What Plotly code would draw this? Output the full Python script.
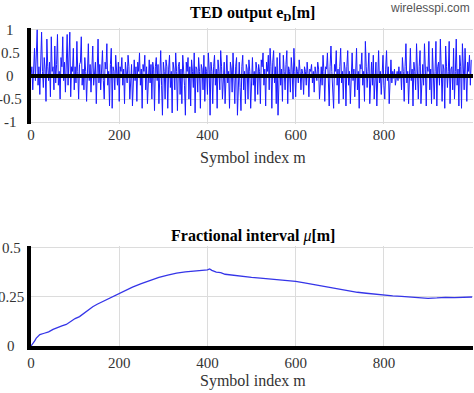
import plotly.graph_objects as go

# ---- data ----
# TED output e_D[m], sampled every 2nd symbol, read per 200-symbol segment
ted_seg_a = [
    0.0, 0.2, -0.3, 0.1, 0.6, -0.1, 0.3, 1.0, -0.2, 0.2,
    -0.4, 0.3, 0.95, 0.1, -0.25, 0.4, 0.15, -0.55, 0.8, 0.2,
    -0.1, 0.3, -0.45, 0.85, 0.1, 0.2, -0.3, 0.65, -0.15, 0.25,
    0.9, -0.2, 0.1, -0.5, 0.4, 0.2, 0.85, -0.1, 0.3, -0.35,
    0.15, 0.9, -0.2, 0.25, 0.95, -0.45, 0.2, 0.1, 0.6, -0.3,
    0.2, -0.15, 0.75, 0.1, -0.5, 0.25, 0.3, 0.85, -0.2, 0.15,
    -0.3, 0.4, 0.1, -0.55, 0.2, 0.7, -0.1, 0.25, -0.35, 0.15,
    0.65, -0.2, 0.1, 0.3, -0.6, 0.2, 0.8, -0.15, 0.25, -0.3,
    0.2, 0.55, -0.1, -0.5, 0.3, 0.15, 0.7, -0.2, 0.1, -0.65,
    0.25, 0.6, -0.7, 0.2, 0.1, -0.3, 0.45, 0.15, -0.2, 0.3,
]
ted_seg_b = [
    -0.55, 0.2, 0.1, 0.4, -0.2, 0.15, -0.6, 0.3, 0.1, -0.15,
    0.45, 0.2, -0.5, 0.1, 0.25, -0.65, 0.15, 0.35, -0.1, 0.2,
    -0.55, 0.3, 0.1, 0.5, -0.2, 0.15, -0.7, 0.25, 0.1, 0.45,
    -0.3, 0.2, -0.6, 0.1, 0.35, -0.15, 0.25, -0.5, 0.3, 0.15,
    -0.75, 0.2, 0.4, -0.1, 0.25, -0.6, 0.15, 0.55, -0.2, -0.85,
    0.3, 0.1, -0.5, 0.35, 0.2, -0.7, 0.15, 0.45, -0.25, 0.1,
    -0.8, 0.3, 0.15, -0.3, 0.5, 0.1, -0.75, 0.2, 0.3, -0.4,
    0.15, -0.6, 0.45, 0.2, -0.2, -0.85, 0.3, 0.1, 0.4, -0.5,
    0.2, -0.65, 0.35, 0.1, -0.25, 0.5, -0.8, 0.2, 0.15, -0.35,
    0.4, 0.1, -0.7, 0.25, 0.15, -0.3, 0.45, -0.55, 0.2, 0.1,
]
ted_seg_c = [
    -0.4, 0.5, 0.15, -0.85, 0.3, 0.1, -0.6, 0.2, 0.45, -0.2,
    0.15, -0.7, 0.35, 0.1, -0.3, 0.55, 0.2, -0.5, 0.1, 0.3,
    -0.6, 0.2, 0.45, -0.15, 0.1, -0.7, 0.3, 0.15, -0.35, 0.5,
    0.1, -0.6, 0.2, 0.4, -0.85, 0.15, 0.3, -0.25, -0.75, 0.2,
    0.45, -0.3, 0.1, -0.6, 0.25, 0.15, -0.5, 0.35, 0.1, -0.7,
    0.2, 0.4, -0.2, 0.1, -0.55, 0.3, 0.15, -0.4, 0.25, 0.1,
    -0.6, 0.35, 0.2, 0.5, -0.2, 0.15, -0.65, 0.3, 0.1, 0.45,
    -0.3, 0.6, 0.2, -0.7, 0.3, 0.55, -0.15, 0.2, -0.6, 0.4,
    -0.85, 0.3, 0.5, -0.2, 0.15, -0.55, 0.45, 0.1, -0.3, 0.25,
    0.55, -0.6, 0.2, 0.1, -0.35, 0.4, 0.15, -0.5, 0.6, 0.1,
]
ted_seg_d = [
    -0.45, 0.2, 0.1, -0.15, 0.35, 0.1, -0.3, 0.15, 0.05, -0.4,
    0.2, 0.1, -0.2, 0.3, 0.05, -0.45, 0.15, 0.1, 0.25, -0.15,
    0.1, -0.35, 0.2, 0.05, -0.1, 0.3, 0.15, -0.5, 0.1, 0.2,
    -0.2, 0.45, 0.1, -0.55, 0.2, 0.15, 0.5, -0.1, -0.65, 0.2,
    0.65, 0.1, -0.3, -0.7, 0.25, 0.1, 0.55, -0.2, 0.15, -0.6,
    0.2, 0.6, -0.15, 0.1, -0.5, 0.3, 0.15, -0.65, 0.2, 0.55,
    -0.2, 0.1, -0.6, 0.3, 0.5, -0.1, 0.15, -0.45, 0.2, 0.6,
    -0.3, 0.1, -0.7, 0.25, 0.15, 0.5, -0.2, 0.1, -0.55, 0.75,
    0.2, -0.25, 0.1, 0.5, -0.6, 0.15, 0.3, -0.2, 0.45, -0.5,
    0.1, 0.3, -0.65, 0.2, 0.55, -0.15, 0.1, -0.4, 0.25, 0.45,
]
ted_seg_e = [
    -0.2, -0.5, 0.15, 0.55, -0.1, 0.2, -0.6, 0.1, 0.35, -0.15,
    0.1, -0.05, 0.15, -0.2, 0.05, 0.1, -0.1, 0.2, -0.05, 0.1,
    -0.3, 0.4, 0.1, -0.55, 0.2, 0.7, -0.15, 0.1, -0.6, 0.2,
    0.6, -0.1, 0.15, -0.65, 0.3, 0.1, -0.3, 0.7, 0.15, -0.5,
    0.2, 0.55, -0.6, 0.1, 0.25, -0.2, 0.7, 0.15, -0.65, 0.2,
    0.1, 0.75, -0.3, 0.15, -0.6, 0.6, 0.2, -0.5, 0.1, 0.75,
    -0.65, 0.2, 0.3, -0.2, 0.8, 0.1, -0.55, 0.25, 0.15, -0.7,
    0.65, 0.2, -0.25, 0.1, 0.75, -0.6, 0.15, 0.2, -0.3, 0.6,
    -0.5, 0.1, 0.8, -0.2, 0.15, -0.65, 0.45, 0.2, -0.7, 0.7,
    0.15, -0.3, 0.6, 0.1, -0.55, 0.3, 0.1, 0.45, -0.2, 0.35,
]
ted_e = ted_seg_a + ted_seg_b + ted_seg_c + ted_seg_d + ted_seg_e
ted_m = list(range(0, 2 * len(ted_e), 2))

# fractional interval mu[m]
mu_m = [0, 4, 8, 12, 16, 20, 30, 40, 50, 60, 70, 80, 90, 100, 110, 120, 130,
        140, 150, 170, 190, 210, 230, 250, 270, 290, 310, 330, 350, 370, 390,
        400, 405, 410, 420, 430, 440, 460, 480, 500, 520, 540, 560, 580, 600,
        620, 640, 660, 680, 700, 720, 740, 760, 780, 800, 820, 840, 860, 880,
        900, 920, 940, 960, 980, 1000]
mu_val = [0.0, 0.01, 0.025, 0.04, 0.05, 0.058, 0.065, 0.072, 0.085, 0.095,
          0.103, 0.11, 0.125, 0.14, 0.15, 0.168, 0.185, 0.2, 0.213, 0.235,
          0.258, 0.28, 0.3, 0.318, 0.336, 0.35, 0.362, 0.372, 0.378, 0.381,
          0.383, 0.388, 0.393, 0.386, 0.377, 0.374, 0.366, 0.36, 0.355, 0.35,
          0.346, 0.342, 0.338, 0.334, 0.33, 0.322, 0.314, 0.306, 0.298, 0.288,
          0.28, 0.274, 0.269, 0.264, 0.26, 0.256, 0.253, 0.25, 0.246, 0.243,
          0.245, 0.248, 0.247, 0.25, 0.25]

x_ticks = [0, 200, 400, 600, 800]
ted_yticks = [1, 0.5, 0, -0.5, -1]
ted_ylabels = ["1", "0.5", "0", "-0.5", "-1"]
mu_yticks = [0.5, 0.25, 0]
mu_ylabels = ["0.5", "0.25", "0"]

SERIF = "Liberation Serif"
W, H = 474, 393
ML, MR = 31, 1

fig = go.Figure()
fig.add_trace(go.Scatter(x=ted_m, y=ted_e, mode="lines",
                         line=dict(color="#1a1aff", width=1),
                         xaxis="x", yaxis="y", showlegend=False))
fig.add_trace(go.Scatter(x=mu_m, y=mu_val, mode="lines",
                         line=dict(color="#3535e8", width=1.3),
                         xaxis="x2", yaxis="y2", showlegend=False))

def py(p):
    return (H - p) / H

def px(p):
    return (p - ML) / (W - ML - MR)

grid = "#dcdcdc"
tickfont = dict(family=SERIF, size=15, color="#333333")
fig.update_layout(
    width=W, height=H, margin=dict(l=ML, r=MR, t=0, b=0),
    paper_bgcolor="white", plot_bgcolor="white",
    xaxis=dict(domain=[0, 1], range=[0, 1002], tickvals=x_ticks,
               ticks="", showgrid=True, gridcolor=grid, gridwidth=1,
               zeroline=False, showline=False, tickfont=tickfont,
               anchor="y"),
    yaxis=dict(domain=[py(124), py(28)], range=[-1.04, 1.04],
               tickvals=ted_yticks, showticklabels=False, ticks="",
               showgrid=True, gridcolor=grid, zeroline=False,
               showline=True, linecolor="black", linewidth=4,
               anchor="x"),
    xaxis2=dict(domain=[0, 1], range=[0, 1002], tickvals=x_ticks,
                ticks="", showgrid=True, gridcolor=grid, zeroline=False,
                showline=True, linecolor="black", linewidth=4,
                tickfont=tickfont, anchor="y2"),
    yaxis2=dict(domain=[py(346), py(246)], range=[0, 0.51],
                tickvals=mu_yticks, showticklabels=False, ticks="",
                showgrid=True, gridcolor=grid, zeroline=False,
                showline=True, linecolor="black", linewidth=4,
                anchor="x2"),
)

# thick zero line drawn over the TED signal
fig.add_shape(type="line", xref="x domain", yref="y", x0=0, x1=1, y0=0, y1=0,
              line=dict(color="black", width=4), layer="above")

ann = []
for v, t in zip(ted_yticks, ted_ylabels):
    ann.append(dict(x=px(10), xref="paper", y=v, yref="y",
                    text=t, showarrow=False, xanchor="center", yanchor="middle",
                    font=tickfont))
for v, t in zip(mu_yticks, mu_ylabels):
    ann.append(dict(x=px(11), xref="paper", y=v, yref="y2",
                    text=t, showarrow=False, xanchor="center", yanchor="middle",
                    font=tickfont))

ann += [
    dict(x=px(252), y=py(14), xref="paper", yref="paper", showarrow=False,
         text="<b>TED output e<sub>D</sub>[m]</b>", xanchor="center",
         yanchor="middle", font=dict(family=SERIF, size=16, color="black")),
    dict(x=px(253), y=py(236), xref="paper", yref="paper", showarrow=False,
         text="<b>Fractional interval </b><i>μ</i><b>[m]</b>", xanchor="center",
         yanchor="middle", font=dict(family=SERIF, size=16, color="black")),
    dict(x=px(253), y=py(158), xref="paper", yref="paper", showarrow=False,
         text="Symbol index m", xanchor="center", yanchor="middle",
         font=dict(family=SERIF, size=16, color="#333333")),
    dict(x=px(253), y=py(381), xref="paper", yref="paper", showarrow=False,
         text="Symbol index m", xanchor="center", yanchor="middle",
         font=dict(family=SERIF, size=16, color="#333333")),
    dict(x=px(430), y=py(8), xref="paper", yref="paper", showarrow=False,
         text="wirelesspi.com", xanchor="center", yanchor="middle",
         font=dict(family="Liberation Sans", size=12, color="#555555")),
]
fig.update_layout(annotations=ann)

fig.write_html("out.html",
               config={"displayModeBar": False},
               post_script="document.body.style.margin='0';"
                           "document.body.style.overflow='hidden';")
